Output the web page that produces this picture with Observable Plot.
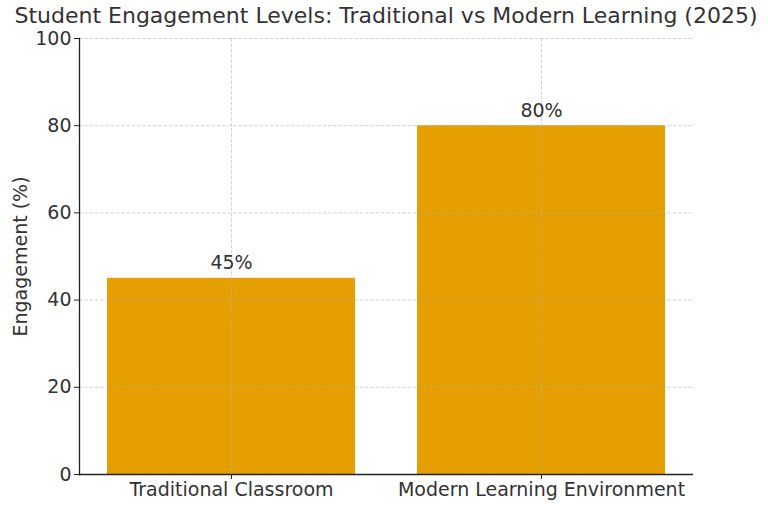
<!DOCTYPE html>
<html>
<head>
<meta charset="utf-8">
<script src="https://cdn.jsdelivr.net/npm/d3@7"></script>
<script src="https://cdn.jsdelivr.net/npm/@observablehq/plot@0.6"></script>
<style>
  html, body { margin: 0; padding: 0; background: #fff; }
  body { width: 768px; height: 510px; overflow: hidden; font-family: "DejaVu Sans", sans-serif; position: relative; }
  #title { position: absolute; left: 0; top: 0; width: 768px; height: 30px; line-height: 32px; font-size: 22px; color: #333; text-align: center; padding-left: 2px; white-space: nowrap; z-index: 2; }
  #chart svg { display: block; }
</style>
</head>
<body>
<div id="title">Student Engagement Levels: Traditional vs Modern Learning (2025)</div>
<div id="chart"></div>
<script>
const categories = ["Traditional Classroom", "Modern Learning Environment"];
const engagement = [45, 80];
const valueLabels = ["45%", "80%"];
const yTicks = [0, 20, 40, 60, 80, 100];

const data = categories.map((c, i) => ({category: c, value: engagement[i], label: valueLabels[i]}));

const gridStyle = {stroke: "#b0b0b0", strokeOpacity: 0.7, strokeWidth: 0.8, strokeDasharray: "3.5,1.8"};

const plot = Plot.plot({
  width: 768,
  height: 510,
  marginTop: 38,
  marginBottom: 36,
  marginLeft: 79,
  marginRight: 75,
  style: {fontFamily: "DejaVu Sans, sans-serif", fontSize: "19px", color: "#333", background: "transparent"},
  x: {domain: categories, paddingInner: 0.2, paddingOuter: 0.09, label: null},
  y: {domain: [0, 100], label: null},
  marks: [
    Plot.barY(data, {x: "category", y: "value", fill: "#E69F00"}),
    Plot.gridY(yTicks, gridStyle),
    Plot.gridX(categories, gridStyle),
    Plot.ruleY([0], {stroke: "#222", strokeWidth: 1.3}),
    Plot.frame({anchor: "left", stroke: "#222", strokeWidth: 1.3}),
    Plot.axisY(yTicks, {tickSize: 5, tickPadding: 3, fontSize: 19, stroke: "#222", fill: "#333", label: null}),
    Plot.axisX(categories, {tickSize: 5, tickPadding: 3, fontSize: 19, stroke: "#222", fill: "#333", label: null}),
    Plot.text(["Engagement (%)"], {frameAnchor: "left", textAnchor: "middle", dx: -59, rotate: -90, fontSize: 19, fill: "#333"}),
    Plot.text(data, {x: "category", y: "value", text: "label", dy: -15, fontSize: 19, fill: "#333"})
  ]
});
document.getElementById("chart").appendChild(plot);
</script>
</body>
</html>
